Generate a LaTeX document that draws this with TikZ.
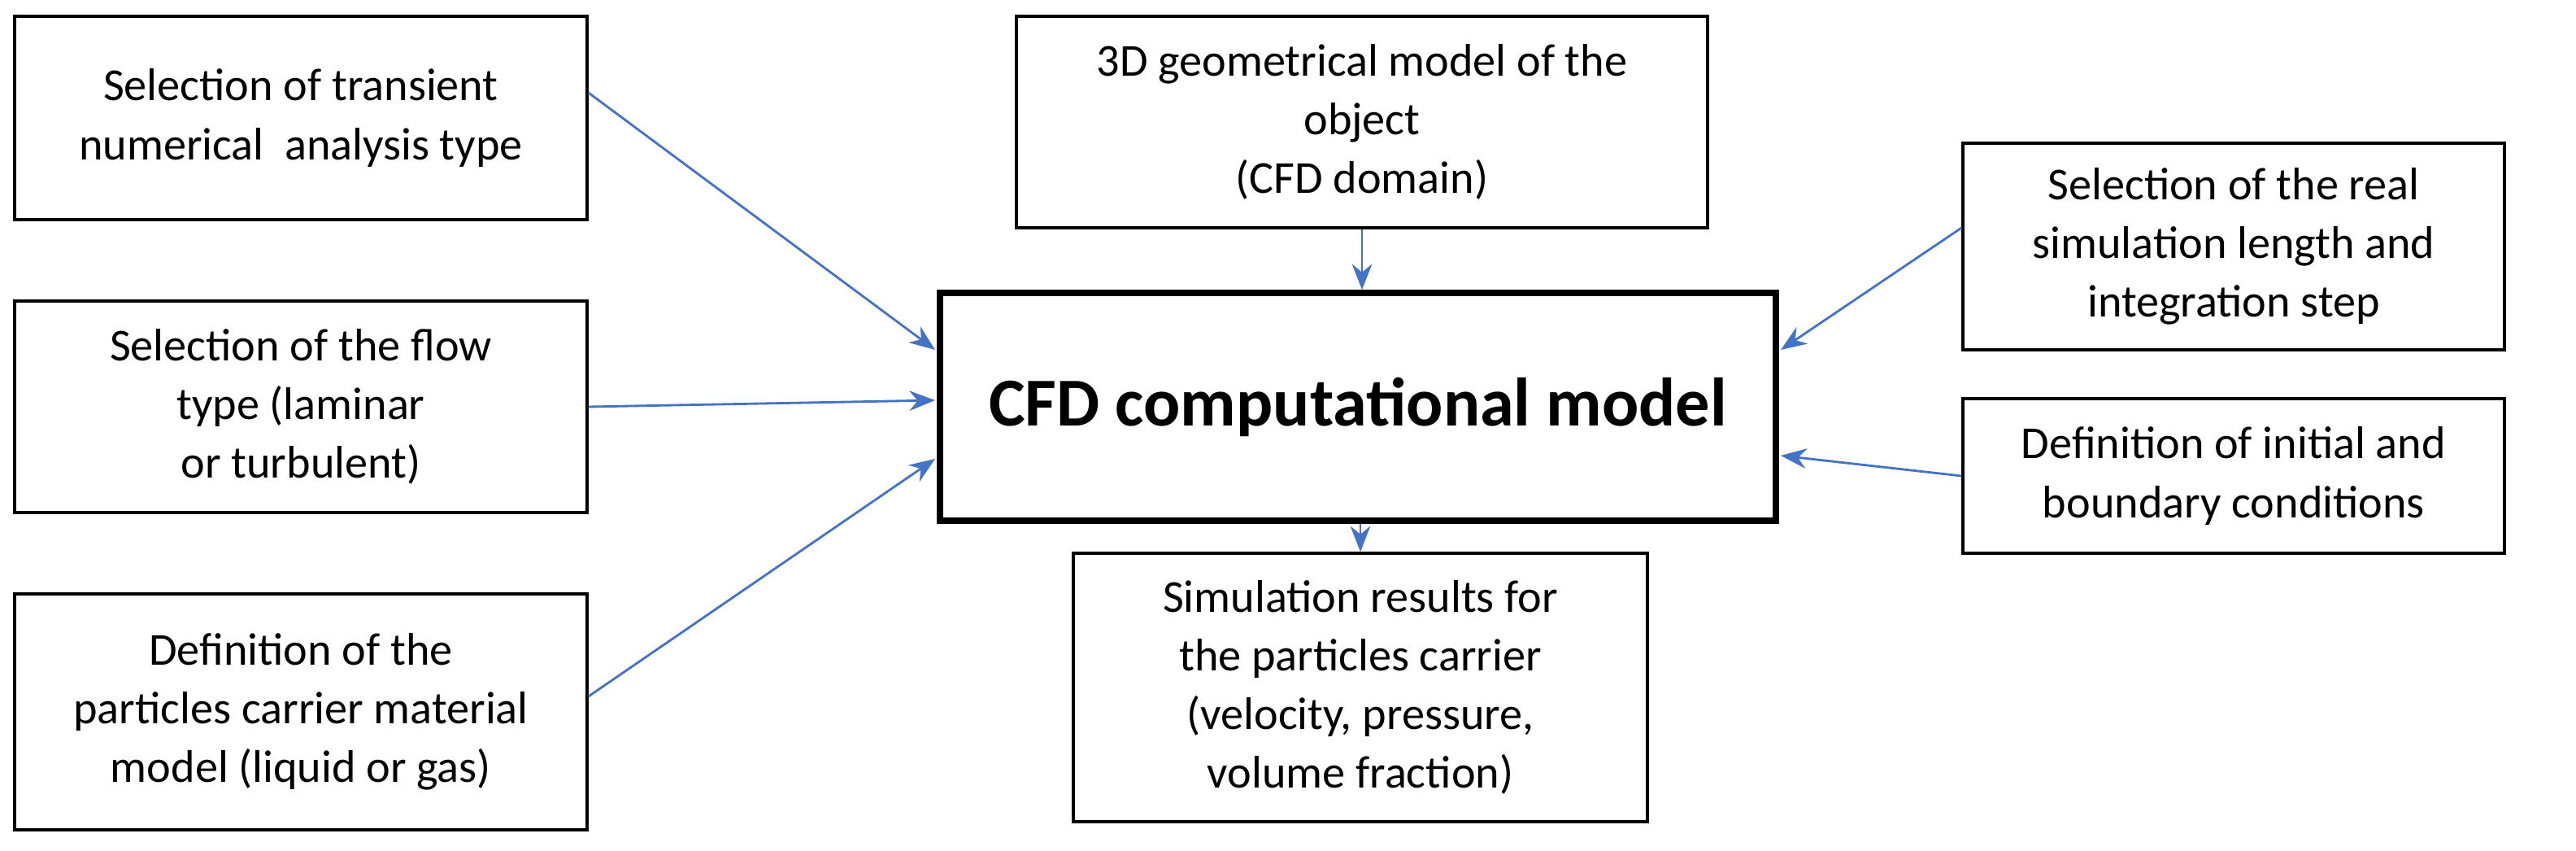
\documentclass[tikz,border=0pt]{standalone}
\usepackage{fontspec}
\setmainfont{Carlito}
\usetikzlibrary{arrows.meta}
\definecolor{arr}{RGB}{68,114,196}
\begin{document}
\begin{tikzpicture}[x=0.02cm,y=-0.02cm,
 box/.style={draw=black,line width=1pt,align=center,font=\fontsize{16}{20.5}\selectfont,inner sep=0pt},
 conn/.style={draw=arr,line width=0.8pt,-{Stealth[length=9pt,width=7pt]}}]
\useasboundingbox (0,0) rectangle (1584,523);
\node[box,minimum width=7.04cm,minimum height=2.5cm] (A) at (185,72.5) {Selection of transient\\numerical\ \ analysis type};
\node[box,minimum width=7.04cm,minimum height=2.6cm] (B) at (185,250) {Selection of the flow\\type (laminar\\or turbulent)};
\node[box,minimum width=7.04cm,minimum height=2.9cm] (C) at (185,437.5) {Definition of the\\particles carrier material\\model (liquid or gas)};
\node[box,minimum width=8.5cm,minimum height=2.6cm] (D) at (837.5,75) {3D geometrical model of the\\object\\(CFD domain)};
\node[draw=black,line width=2.2pt,minimum width=10.28cm,minimum height=2.8cm,font=\fontsize{24}{28}\selectfont\bfseries] (M) at (835,250) {CFD computational model};
\node[box,minimum width=7.06cm,minimum height=3.3cm] (E) at (836.5,422.5) {Simulation results for\\the particles carrier\\(velocity, pressure,\\volume fraction)};
\node[box,minimum width=6.66cm,minimum height=2.54cm] (F) at (1373.5,151.5) {Selection of the real\\simulation length and\\integration step};
\node[box,minimum width=6.66cm,minimum height=1.9cm] (G) at (1373.5,292.5) {Definition of initial and\\boundary conditions};
\coordinate (a1) at (575,215); \coordinate (b1) at (575,246); \coordinate (c1) at (575,282);
\coordinate (f1) at (1095,215); \coordinate (g1) at (1095,280);
\draw[conn] (A.east|-0,57) -- (a1);
\draw[conn] (B.east) -- (b1);
\draw[conn] (C.east|-0,428) -- (c1);
\draw[conn] (D.south) -- (M.north-|D.south);
\draw[conn] (F.west|-0,140) -- (f1);
\draw[conn] (G.west) -- (g1);
\draw[conn] (M.south-|E.north) -- (E.north);
\end{tikzpicture}
\end{document}
